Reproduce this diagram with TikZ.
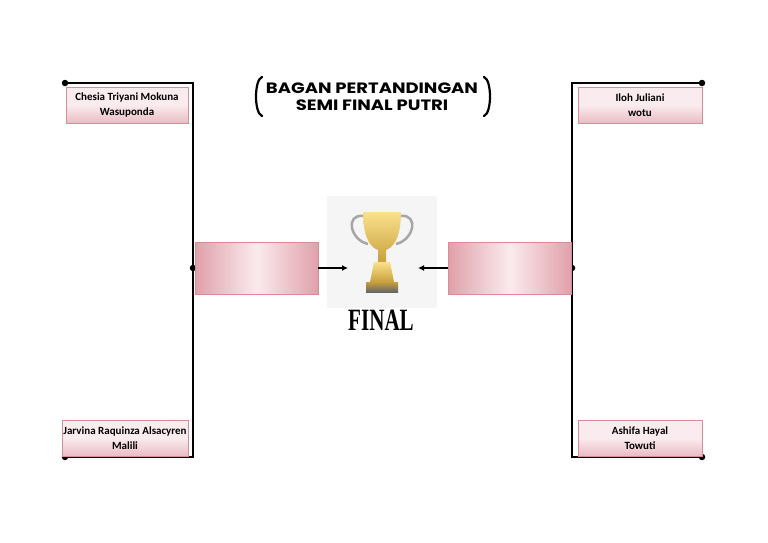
\documentclass[tikz,border=0pt]{standalone}
\usepackage{fontspec}
\setmainfont{Carlito}
\newfontfamily\titlefont{Poppins}
\newfontfamily\finalfont{Liberation Serif}
\usetikzlibrary{arrows.meta}
\definecolor{pinkedge}{RGB}{215,140,150}
\definecolor{pinklight}{RGB}{250,235,238}
\definecolor{pinkdark}{RGB}{225,160,170}
\definecolor{gold}{RGB}{200,160,60}
\definecolor{goldl}{RGB}{250,225,140}
\tikzset{
  namebox/.style={draw=pinkedge, line width=0.8pt, top color=pinklight, bottom color=pinkdark!70, middle color=pinklight, minimum height=36pt, align=center, font=\bfseries\fontsize{11}{15}\selectfont, inner sep=1pt},
  midbox/.style={draw=pinkedge, line width=0.8pt, left color=pinkdark, right color=pinkdark, middle color=pinklight, minimum width=123pt, minimum height=52pt},
  bline/.style={line width=2pt, black},
  dotc/.style={circle, fill=black, inner sep=0pt, minimum size=6.5pt},
  arr/.style={line width=1.8pt, -{Latex[length=6pt,width=6pt]}}
}
\begin{document}
\begin{tikzpicture}[x=1pt,y=-1pt]
\useasboundingbox[fill=white] (0,0) rectangle (768,543);
% left bracket
\node[dotc] (lt) at (65,83) {};
\node[dotc] (lb) at (65,457) {};
\coordinate (ltc) at (193,83);
\coordinate (lbc) at (193,457);
\draw[bline] (lt.center) -- (ltc) -- (lbc) -- (lb.center);
\node[dotc] (lm) at (193,268) {};
% right bracket
\node[dotc] (rt) at (702,83) {};
\node[dotc] (rb) at (702,457) {};
\coordinate (rtc) at (572,83);
\coordinate (rbc) at (572,457);
\draw[bline] (rt.center) -- (rtc) -- (rbc) -- (rb.center);
\node[dotc] (rm) at (572,268) {};
% name boxes
\node[namebox, minimum width=122pt] (n1) at (127,105) {Chesia Triyani Mokuna\\Wasuponda};
\node[namebox, minimum width=126pt] (n2) at (125,438) {Jarvina Raquinza Alsacyren\\Malili};
\node[namebox, minimum width=124pt] (n3) at (640,105) {Iloh Juliani\\wotu};
\node[namebox, minimum width=124pt] (n4) at (640,438) {Ashifa Hayal\\Towuti};
% middle boxes
\node[midbox] (ml) at (256.5,268) {};
\node[midbox] (mr) at (510,268) {};
% trophy
\node[fill=black!4, minimum width=110pt, minimum height=112pt, inner sep=0pt] (tro) at (382,252) {};
\shade[top color=goldl, bottom color=gold] (363,212) -- (401,212) .. controls (401,240) and (392,248) .. (386,250) -- (386,262) -- (378,262) -- (378,250) .. controls (372,248) and (363,240) .. (363,212) -- cycle;
\draw[black!35, line width=2.5pt] (363,216) .. controls (345,214) and (350,240) .. (368,244);
\draw[black!35, line width=2.5pt] (401,216) .. controls (419,214) and (414,240) .. (396,244);
\shade[top color=goldl, bottom color=gold] (374,262) -- (390,262) -- (394,282) -- (370,282) -- cycle;
\shade[top color=gold, bottom color=black!60] (366,282) rectangle (398,292);
\node[font=\finalfont\bfseries\fontsize{31}{32}\selectfont, xscale=0.68, inner sep=0pt] (fin) at (381,320) {FINAL};
\draw[arr] (ml.east) -- (348,268);
\draw[arr] (mr.west) -- (418,268);
% title
\node[font=\titlefont\bfseries\fontsize{15}{17}\selectfont, align=center, inner sep=0pt, xscale=1.2] (title) at (372,97) {BAGAN PERTANDINGAN\\SEMI FINAL PUTRI};
\draw[line width=2.2pt, line cap=round] (262,77) .. controls (254,80) and (254,113) .. (262,116);
\draw[line width=2.2pt, line cap=round] (484,77) .. controls (492,80) and (492,113) .. (484,116);
\end{tikzpicture}
\end{document}
